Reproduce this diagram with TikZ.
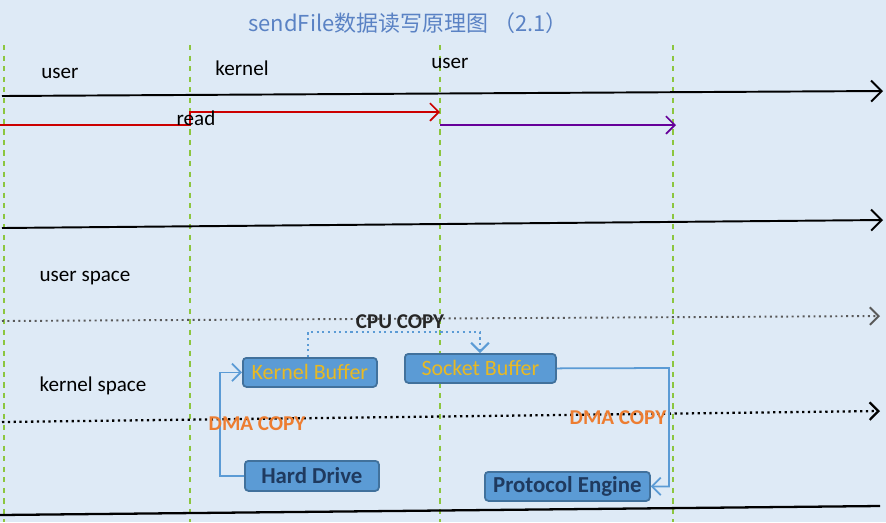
\documentclass[tikz,border=0pt]{standalone}
\usepackage{fontspec}
\setmainfont{Carlito}
\newfontfamily\cjk{Noto Sans CJK SC}
\usetikzlibrary{arrows.meta}
\definecolor{bgblue}{HTML}{DEEAF6}
\definecolor{boxfill}{HTML}{5B9BD5}
\definecolor{boxline}{HTML}{41719C}
\definecolor{buftext}{HTML}{E8B923}
\definecolor{darktext}{HTML}{1F3A5F}
\definecolor{dmaorange}{HTML}{ED7D31}
\definecolor{guide}{HTML}{8CC63F}
\definecolor{titleblue}{HTML}{5A82C4}
\tikzset{
  box/.style={draw=boxline, line width=1pt, fill=boxfill, rounded corners=2pt, anchor=north west, inner sep=0pt},
  flow/.style={draw=boxfill, line width=1pt, -{Straight Barb[length=5pt]}},
  guideline/.style={guide, dashed, line width=0.8pt},
  axis/.style={black, line width=1.1pt, -{Straight Barb[length=6pt]}},
  lbl/.style={font=\fontsize{12}{14}\selectfont},
  dma/.style={dmaorange, font=\bfseries\fontsize{12}{14}\selectfont}
}
\begin{document}
\begin{tikzpicture}[x=0.02cm, y=-0.02cm]
  \fill[bgblue] (0,0) rectangle (886,522);
  \useasboundingbox (0,0) rectangle (886,522);
  % guides
  \foreach \gx in {4,190,440,673}
    \draw[guideline] (\gx,45) -- (\gx,522);
  % title
  \node[titleblue, font=\cjk\fontsize{12.5}{14}\selectfont] (title) at (408,23) {sendFile数据读写原理图 （2.1）};
  % horizontal lines
  \coordinate (a1) at (2,96);  \coordinate (a2) at (883,91);
  \coordinate (b1) at (2,228); \coordinate (b2) at (883,220);
  \coordinate (c1) at (2,321); \coordinate (c2) at (880,316);
  \coordinate (d1) at (2,422); \coordinate (d2) at (880,411);
  \coordinate (e1) at (0,515); \coordinate (e2) at (880,506);
  \draw[axis] (a1) -- (a2);
  \draw[axis] (b1) -- (b2);
  \draw[gray!70!black, dotted, line width=1.1pt, -{Straight Barb[length=5pt]}] (c1) -- (c2);
  \draw[black, dotted, line width=1.3pt, -{Straight Barb[length=5pt]}] (d1) -- (d2);
  \draw[black, line width=1.3pt] (e1) -- (e2);
  % read / write
  \coordinate (r0) at (0,125);
  \coordinate (r1) at (440,112);
  \coordinate (w0) at (440,125);
  \coordinate (w1) at (676,125);
  \draw[red!80!black, line width=1pt, -{Straight Barb[length=5pt]}] (r0) -- (190,125) |- (r1);
  \draw[violet!80!blue, line width=1pt, -{Straight Barb[length=5pt]}] (w0) -- (w1);
  % labels
  \node[lbl] (u1) at (60,73) {user};
  \node[lbl] (k1) at (242,68) {kernel};
  \node[lbl] (u2) at (450,63) {user};
  \node[lbl] (rd) at (196,118) {read};
  \node[lbl] (us) at (85,278) {user space};
  \node[lbl] (ks) at (93,386) {kernel space};
  % boxes
  \node[box, minimum width=134*0.02cm, minimum height=29*0.02cm, text=buftext, font=\fontsize{12.5}{14}\selectfont] (kb) at (242,357) {Kernel Buffer};
  \node[box, minimum width=151*0.02cm, minimum height=29*0.02cm, text=buftext, font=\fontsize{12.5}{14}\selectfont] (sb) at (404,353) {Socket Buffer};
  \node[box, minimum width=134*0.02cm, minimum height=30*0.02cm, text=darktext, font=\bfseries\fontsize{13}{15}\selectfont] (hd) at (244,460) {Hard Drive};
  \node[box, minimum width=165*0.02cm, minimum height=29*0.02cm, text=darktext, font=\bfseries\fontsize{13}{15}\selectfont] (pe) at (484,471) {Protocol Engine};
  % copies
  \draw[flow] (hd.west) -- ++(-24,0) |- (kb.west);
  \draw[flow] (sb.east) -- (669,368) |- (pe.east);
  \draw[boxfill, dotted, line width=1.2pt, -{Straight Barb[length=5pt]}] (308,357) |- (480,332) -- (sb.north -| 480,0);
  \node[gray!30!black, font=\bfseries\fontsize{12}{14}\selectfont] (cpu) at (400,322) {CPU COPY};
  \node[dma] (dma1) at (257,424) {DMA COPY};
  \node[dma] (dma2) at (618,418) {DMA COPY};
\end{tikzpicture}
\end{document}
